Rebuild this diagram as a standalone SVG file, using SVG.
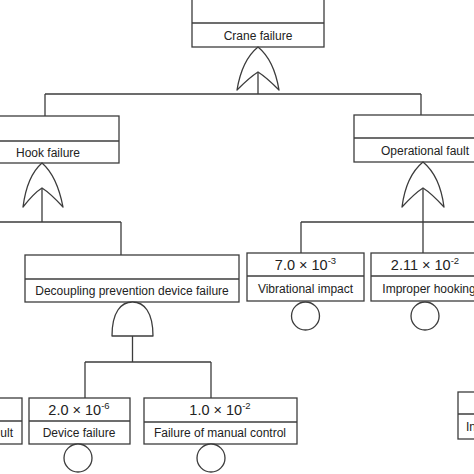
<svg xmlns="http://www.w3.org/2000/svg" width="474" height="474" viewBox="0 0 474 474">
<style>
.b{fill:#fff;stroke:#3c3c3c;stroke-width:1.3}
.l{fill:none;stroke:#3c3c3c;stroke-width:1.3}
.g{fill:#fff;stroke:#3c3c3c;stroke-width:1.3;stroke-linejoin:round}
.t{font-family:"Liberation Sans",Arial,sans-serif;font-size:12px;fill:#222;text-anchor:middle}
.p{font-family:"Liberation Sans",Arial,sans-serif;font-size:14.5px;fill:#222;text-anchor:middle}
.s{font-size:9.5px}
</style>
<rect width="474" height="474" fill="#fff"/>
<g id="connectors">
<path class="l" d="M258 72V94M45 94H421M45 94V116M421 94V115"/>
<path class="l" d="M42 188V222M0 222H121M121 222V255"/>
<path class="l" d="M423 188V253M301 222H474M301 222V253"/>
<path class="l" d="M132.5 336V362M85 362H211M85 362V398M211 362V398"/>
</g>
<g id="crane-failure">
<rect class="b" x="192" y="-20" width="132" height="67"/>
<line class="l" x1="192" y1="23" x2="324" y2="23"/>
<text class="t" x="258" y="39.5">Crane failure</text>
<path class="g" d="M237 90Q242 60 258 47Q274 60 279 90Q266 77 258 72Q250 77 237 90Z"/>
</g>
<g id="hook-failure">
<rect class="b" x="-23" y="116" width="142" height="47"/>
<line class="l" x1="-23" y1="141" x2="119" y2="141"/>
<text class="t" x="48" y="157">Hook failure</text>
<path class="g" d="M23 207Q27 176 42 163Q57 176 63 207Q50 193 42 188Q34 193 23 207Z"/>
</g>
<g id="operational-fault">
<rect class="b" x="354" y="115" width="142" height="47"/>
<line class="l" x1="354" y1="138" x2="496" y2="138"/>
<text class="t" x="425" y="155">Operational fault</text>
<path class="g" d="M402 207Q406 176 423 162Q440 176 444 207Q431 193 423 188Q415 193 402 207Z"/>
</g>
<g id="decoupling">
<rect class="b" x="25" y="255" width="214" height="47"/>
<line class="l" x1="25" y1="279" x2="239" y2="279"/>
<text class="t" x="132" y="295">Decoupling prevention device failure</text>
<path class="g" d="M112 336C112 312 121 302 132.5 302C144 302 153 312 153 336Z"/>
</g>
<g id="vibrational-impact">
<rect class="b" x="247" y="253" width="117" height="48"/>
<line class="l" x1="247" y1="276" x2="364" y2="276"/>
<text class="p" x="305.5" y="270">7.0 × 10<tspan class="s" dy="-6">-3</tspan></text>
<text class="t" x="305.5" y="293">Vibrational impact</text>
<circle class="b" cx="305.5" cy="316" r="14"/>
</g>
<g id="improper-hooking">
<rect class="b" x="371" y="253" width="116" height="48"/>
<line class="l" x1="371" y1="276" x2="487" y2="276"/>
<text class="p" x="425" y="270">2.11 × 10<tspan class="s" dy="-6">-2</tspan></text>
<text class="t" x="429" y="293">Improper hooking</text>
<circle class="b" cx="425" cy="316" r="14"/>
</g>
<g id="left-partial">
<rect class="b" x="-60" y="398" width="82" height="46"/>
<line class="l" x1="-60" y1="421" x2="22" y2="421"/>
<text class="t" x="13" y="437" style="text-anchor:end">ult</text>
</g>
<g id="device-failure">
<rect class="b" x="29" y="398" width="101" height="46"/>
<line class="l" x1="29" y1="421" x2="130" y2="421"/>
<text class="p" x="79" y="415">2.0 × 10<tspan class="s" dy="-6">-6</tspan></text>
<text class="t" x="79" y="437">Device failure</text>
<circle class="b" cx="78" cy="458" r="14"/>
</g>
<g id="manual-control">
<rect class="b" x="144" y="398" width="153" height="46"/>
<line class="l" x1="144" y1="422" x2="297" y2="422"/>
<text class="p" x="220" y="415">1.0 × 10<tspan class="s" dy="-6">-2</tspan></text>
<text class="t" x="220" y="437">Failure of manual control</text>
<circle class="b" cx="211" cy="458" r="14"/>
</g>
<g id="right-partial">
<rect class="b" x="458" y="392" width="40" height="47"/>
<line class="l" x1="458" y1="414" x2="498" y2="414"/>
<text class="t" x="466" y="431" style="text-anchor:start">In</text>
</g>
</svg>
